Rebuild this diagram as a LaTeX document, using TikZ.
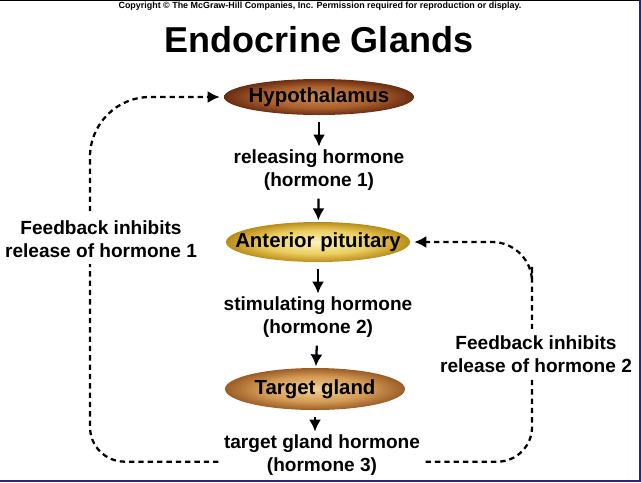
\documentclass[tikz,border=0pt]{standalone}
\usepackage{fontspec}
\setmainfont{Liberation Sans}
\usetikzlibrary{positioning,arrows.meta,shapes.geometric}
\definecolor{hypin}{RGB}{205,140,80}
\definecolor{hypmid}{RGB}{170,95,45}
\definecolor{hypout}{RGB}{105,45,18}
\definecolor{antin}{RGB}{252,244,190}
\definecolor{antmid}{RGB}{235,205,95}
\definecolor{antout}{RGB}{185,140,25}
\definecolor{tgtin}{RGB}{240,210,150}
\definecolor{tgtmid}{RGB}{212,155,85}
\definecolor{tgtout}{RGB}{155,92,38}
\definecolor{framenavy}{RGB}{40,40,110}
\pgfdeclareradialshading{hypshade}{\pgfpoint{0bp}{0bp}}{color(0bp)=(hypin); color(15bp)=(hypmid); color(25bp)=(hypout); color(50bp)=(hypout)}
\pgfdeclareradialshading{antshade}{\pgfpoint{0bp}{0bp}}{color(0bp)=(antin); color(15bp)=(antmid); color(25bp)=(antout); color(50bp)=(antout)}
\pgfdeclareradialshading{tgtshade}{\pgfpoint{0bp}{0bp}}{color(0bp)=(tgtin); color(15bp)=(tgtmid); color(25bp)=(tgtout); color(50bp)=(tgtout)}
\newcommand{\glandtext}[1]{\makebox[0pt]{#1}}

\begin{document}
\begin{tikzpicture}[x=0.75pt,y=-0.75pt]
\tikzset{gland/.style={ellipse,inner sep=0pt,font=\bfseries\fontsize{15.3}{18}\selectfont}}
\tikzset{lbl/.style={align=center,font=\bfseries\fontsize{14.3}{17.3}\selectfont,inner sep=1pt}}
\tikzset{fblbl/.style={lbl,fill=white,inner xsep=1pt,inner ysep=5pt}}
\tikzset{arr/.style={-{Latex[length=9pt,width=9pt]},line width=1.7pt,shorten <=5pt,shorten >=1pt}}
\tikzset{fb/.style={-{Latex[length=9pt,width=9pt]},line width=1.7pt,dash pattern=on 4pt off 3pt,shorten <=3pt,shorten >=3pt}}
\useasboundingbox (0,0) rectangle (641,482);
% frame
\draw[line width=0.8pt] (0,0.5) -- (641,0.5);
\draw[framenavy,line width=1.2pt] (640,0) -- (640,481) -- (0,481);
\node[font=\bfseries\fontsize{6.7}{7}\selectfont] (copy) at (320,6) {Copyright \textcopyright{} The McGraw-Hill Companies, Inc. Permission required for reproduction or display.};
\node[font=\bfseries\fontsize{27}{30}\selectfont] (title) at (319,40) {Endocrine Glands};

% glands
\node[gland,shading=hypshade,minimum width=142.5pt,minimum height=27pt] (hyp) at (319,97) {\glandtext{Hypothalamus}};
\node[gland,shading=antshade,minimum width=138pt,minimum height=30pt] (ant) at (318,242) {\glandtext{Anterior pituitary}};
\node[gland,shading=tgtshade,minimum width=135pt,minimum height=31.5pt] (tgt) at (315,389) {\glandtext{Target gland}};

% hormones
\node[lbl] (rel) at (319,170) {releasing hormone\\(hormone 1)};
\node[lbl] (stim) at (318,317) {stimulating hormone\\(hormone 2)};
\node[lbl] (tgh) at (322,455) {target gland hormone\\(hormone 3)};

\draw[arr] (hyp) -- (rel);
\draw[arr] (rel) -- (ant);
\draw[arr] (ant) -- (stim);
\draw[arr] (stim) -- (tgt);
\draw[arr] (tgt) -- (tgt |- tgh.north);

% feedback loops
\draw[fb] ([yshift=-5pt]tgh.west) [rounded corners=26pt] -| (90,300) [rounded corners=45pt] |- (hyp.west);
\draw[fb] ([yshift=-5pt]tgh.east) [rounded corners=26pt] -| (532,300) [rounded corners=30pt] |- (ant.east);
\node[fblbl] (fb1) at (101,239) {Feedback inhibits\\release of hormone 1};
\node[fblbl] (fb2) at (536,354) {Feedback inhibits\\release of hormone 2};
\end{tikzpicture}
\end{document}
